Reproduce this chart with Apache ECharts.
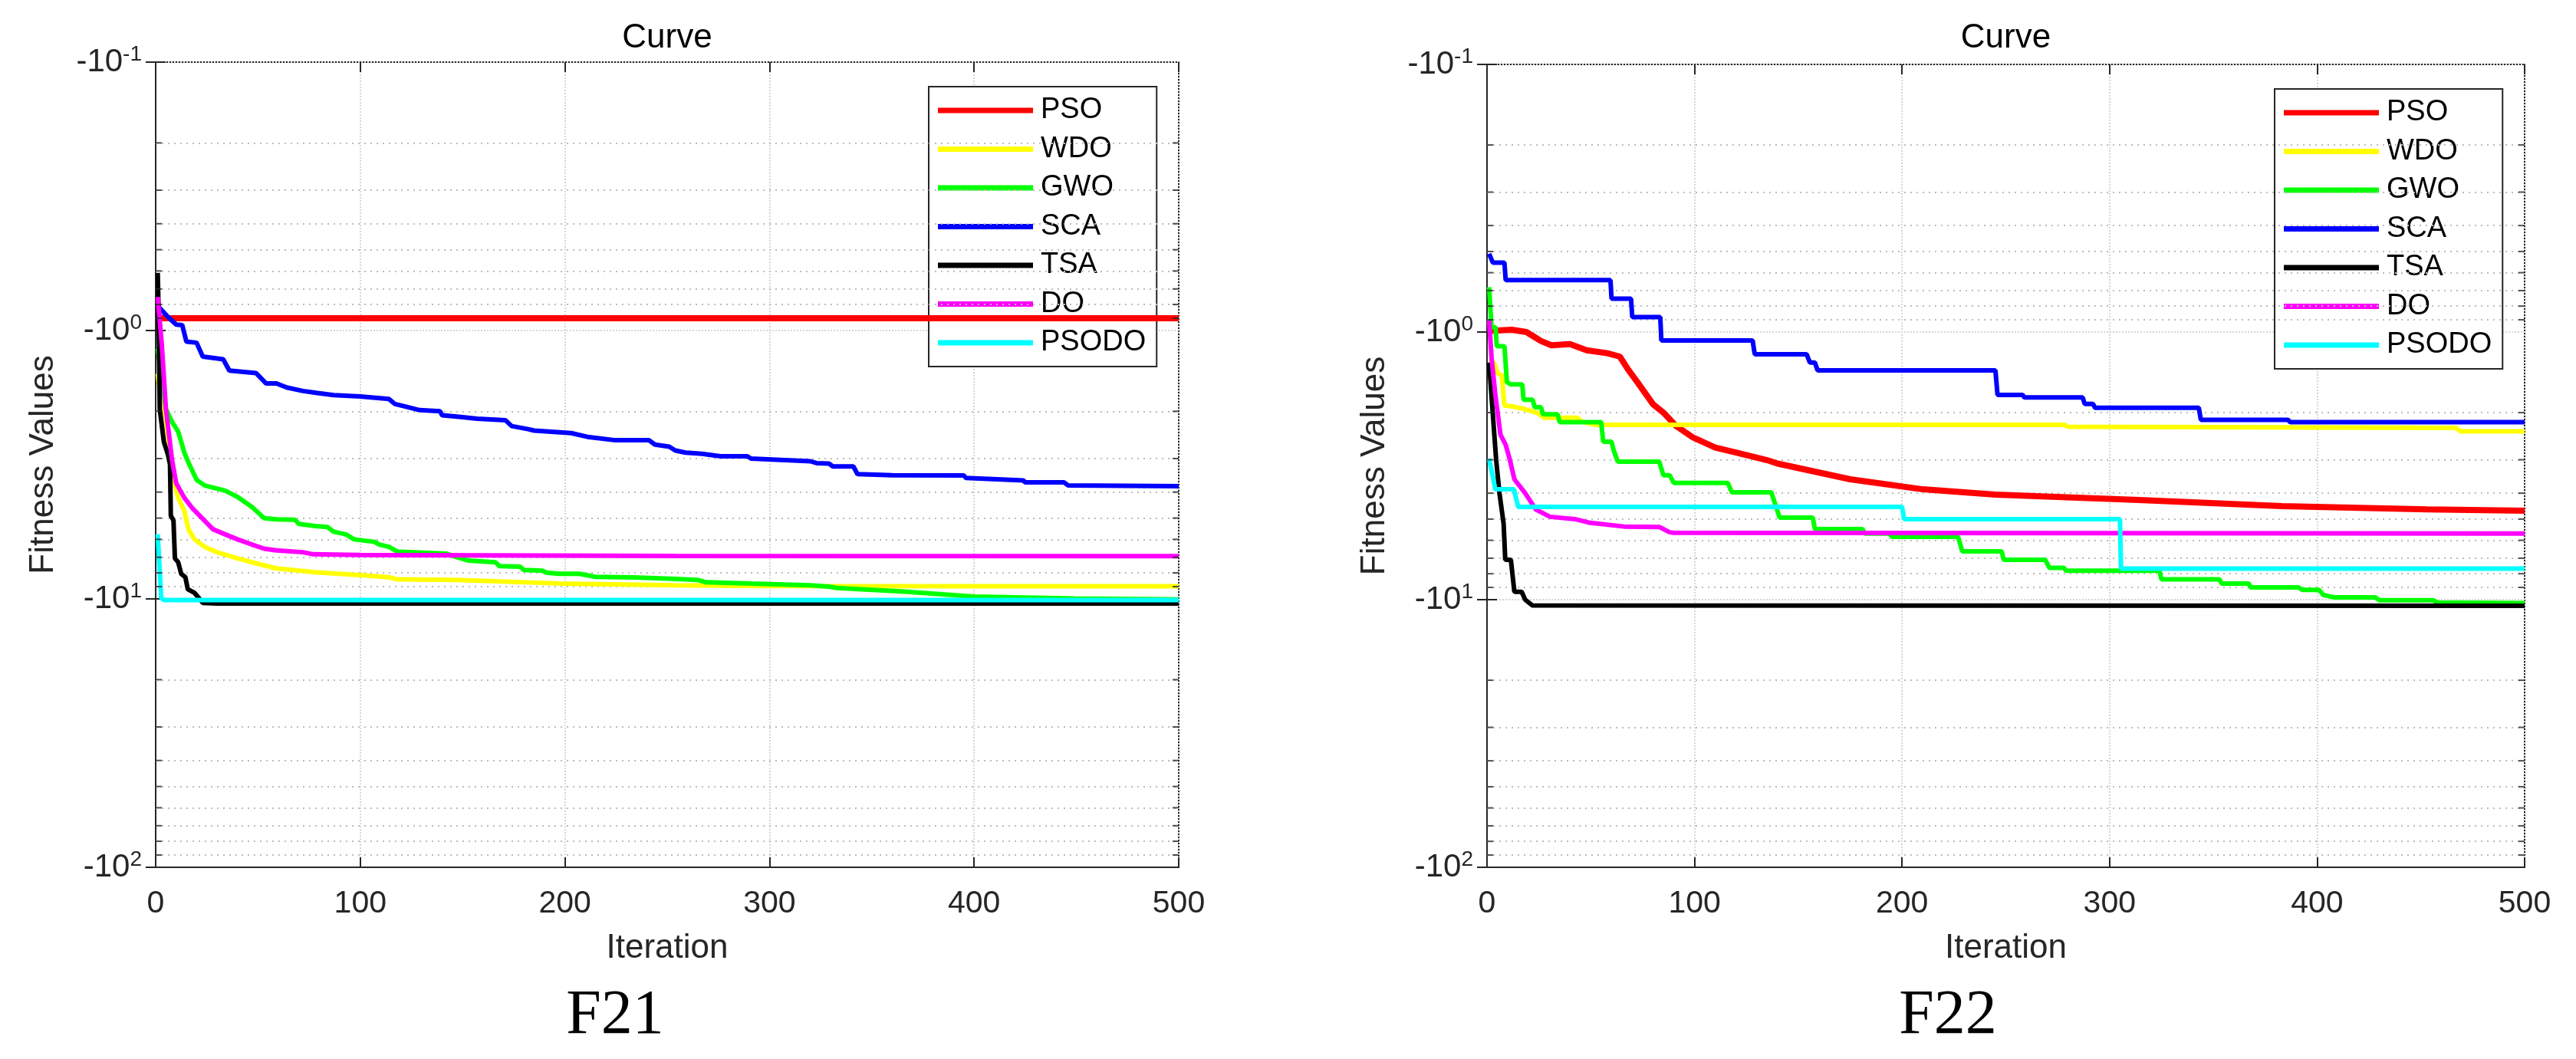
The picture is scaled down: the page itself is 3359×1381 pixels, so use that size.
<!DOCTYPE html>
<html>
<head>
<meta charset="utf-8">
<title>Curve F21 / F22</title>
<script src="https://cdn.jsdelivr.net/npm/echarts@6/dist/echarts.min.js"></script>
<style>
  html, body { margin: 0; padding: 0; background: #fff; }
  #chart { width: 3359px; height: 1381px; }
</style>
</head>
<body>
<div id="chart"></div>
<script>
const SANS = "'Liberation Sans', Arial, sans-serif"
const SERIF = "'Liberation Serif', 'Times New Roman', serif"

const algorithms = ['PSO', 'WDO', 'GWO', 'SCA', 'TSA', 'DO', 'PSODO']
const colors = ['#ff0000', '#ffff00', '#00ff00', '#0000ff', '#000000', '#ff00ff', '#00ffff']
const iterTicks = [0, 100, 200, 300, 400, 500]
const minorTicks = [0.2, 0.3, 0.4, 0.5, 0.6, 0.7, 0.8, 0.9, 2, 3, 4, 5, 6, 7, 8, 9, 20, 30, 40, 50, 60, 70, 80, 90]
const panelNames = ['F21', 'F22']

// F21 curves: [iteration, fitness]
const f21PSO = [[1, -0.88], [3, -0.9], [500, -0.9]]
const f21WDO = [[1, -1.45], [3, -1.96], [5, -2.55], [8, -3.46], [11, -4.2], [14, -4.7], [16, -5.5], [19, -6.0], [24, -6.4], [30, -6.7], [40, -7.06], [50, -7.4], [59, -7.7], [67, -7.8], [78, -7.96], [100, -8.15], [114, -8.3], [118, -8.46], [147, -8.5], [197, -8.76], [254, -8.9], [300, -8.95], [500, -8.97]]
const f21GWO = [[1, -1.17], [3, -1.5], [5, -1.96], [8, -2.19], [11, -2.38], [14, -2.85], [16, -3.1], [20, -3.6], [24, -3.78], [34, -3.95], [40, -4.17], [47, -4.54], [53, -5.0], [59, -5.05], [68, -5.07], [70, -5.26], [78, -5.35], [84, -5.4], [87, -5.62], [93, -5.75], [97, -6.0], [107, -6.13], [109, -6.26], [114, -6.4], [118, -6.66], [142, -6.78], [147, -6.98], [153, -7.2], [166, -7.3], [168, -7.55], [178, -7.58], [180, -7.8], [189, -7.85], [191, -7.98], [197, -8.06], [207, -8.06], [215, -8.28], [234, -8.32], [252, -8.42], [265, -8.5], [269, -8.67], [291, -8.77], [320, -8.9], [329, -9.0], [333, -9.1], [366, -9.4], [400, -9.8], [449, -9.96], [500, -10.05]]
const f21SCA = [[1, -0.8], [2, -0.825], [6, -0.89], [10, -0.95], [13, -0.955], [15, -1.1], [20, -1.11], [23, -1.25], [33, -1.28], [36, -1.41], [49, -1.44], [54, -1.575], [59, -1.575], [64, -1.63], [72, -1.68], [79, -1.71], [87, -1.74], [100, -1.76], [114, -1.8], [117, -1.88], [122, -1.92], [129, -1.98], [139, -2.0], [140, -2.07], [149, -2.1], [157, -2.13], [171, -2.16], [174, -2.27], [182, -2.33], [185, -2.36], [203, -2.41], [211, -2.49], [224, -2.56], [241, -2.56], [244, -2.66], [251, -2.71], [254, -2.8], [259, -2.85], [267, -2.88], [276, -2.94], [289, -2.94], [291, -3.0], [320, -3.07], [323, -3.12], [329, -3.13], [331, -3.21], [341, -3.21], [343, -3.43], [360, -3.46], [395, -3.47], [396, -3.54], [424, -3.62], [425, -3.68], [444, -3.68], [446, -3.78], [500, -3.8]]
const f21TSA = [[1, -0.61], [1.4, -0.82], [2, -1.96], [4, -2.6], [6, -2.9], [7, -3.15], [7.4, -4.9], [8.7, -5.1], [9.4, -7.06], [11, -7.3], [12.5, -8.07], [14.5, -8.3], [15.7, -9.2], [19, -9.5], [21, -9.9], [23, -10.35], [30, -10.4], [500, -10.4]]
const f21DO = [[1, -0.75], [3, -1.13], [5, -1.96], [8, -3.04], [10, -3.7], [14, -4.2], [18, -4.6], [23, -5.03], [28, -5.5], [34, -5.75], [40, -6.0], [47, -6.27], [53, -6.5], [59, -6.6], [72, -6.7], [77, -6.82], [100, -6.86], [254, -6.92], [500, -6.93]]
const f21PSODO = [[1, -5.74], [2.7, -9.9], [4, -10.1], [500, -10.1]]

// F22 curves: [iteration, fitness]
const f22PSO = [[1, -0.99], [12, -0.98], [19, -1.0], [26, -1.08], [31, -1.12], [40, -1.11], [48, -1.17], [58, -1.2], [64, -1.235], [68, -1.38], [73, -1.56], [80, -1.86], [85, -2.0], [91, -2.24], [99, -2.47], [110, -2.7], [120, -2.82], [135, -3.01], [140, -3.1], [175, -3.55], [210, -3.87], [245, -4.05], [314, -4.24], [383, -4.47], [453, -4.6], [500, -4.65]]
const f22WDO = [[1, -1.3], [3.4, -1.3], [5.3, -1.43], [7.1, -1.45], [8.4, -1.88], [12.7, -1.9], [18, -1.94], [24, -2.0], [27.5, -2.09], [43.5, -2.09], [46, -2.17], [52, -2.22], [278, -2.22], [280, -2.26], [467, -2.28], [469, -2.35], [500, -2.35]]
const f22GWO = [[1, -0.68], [2.2, -0.96], [4.1, -0.96], [4.7, -1.13], [8.4, -1.13], [9.6, -1.54], [11.5, -1.57], [17, -1.57], [17.6, -1.79], [22, -1.79], [23, -1.91], [26, -1.91], [27, -2.03], [34, -2.03], [35, -2.17], [55, -2.17], [56, -2.57], [60, -2.57], [61, -2.76], [63, -3.05], [83, -3.05], [85, -3.43], [88, -3.43], [90, -3.66], [116, -3.66], [118, -3.97], [137, -3.97], [141, -4.94], [157, -4.94], [158, -5.45], [181, -5.45], [182, -5.66], [194, -5.66], [195, -5.82], [227, -5.82], [229, -6.6], [248, -6.6], [249, -7.1], [269, -7.1], [271, -7.6], [278, -7.6], [279, -7.8], [324, -7.8], [325, -8.4], [353, -8.4], [354, -8.7], [367, -8.7], [368, -9.0], [391, -9.0], [393, -9.2], [401, -9.2], [403, -9.6], [408, -9.8], [428, -9.8], [430, -10.05], [456, -10.05], [458, -10.25], [500, -10.3]]
const f22SCA = [[1, -0.51], [1.6, -0.51], [2.8, -0.55], [8.4, -0.55], [9, -0.64], [59.5, -0.64], [60, -0.75], [69.4, -0.75], [70, -0.88], [83.5, -0.88], [84, -1.075], [128, -1.075], [129, -1.21], [154, -1.21], [155.6, -1.3], [158, -1.3], [159.3, -1.39], [245, -1.39], [246, -1.717], [258, -1.717], [259, -1.755], [287, -1.755], [288, -1.855], [292, -1.855], [293, -1.92], [343, -1.92], [344, -2.13], [386, -2.13], [387, -2.17], [500, -2.17]]
const f22TSA = [[1, -1.3], [4.4, -3.0], [6, -4.0], [8, -5.2], [8.8, -7.1], [11.5, -7.1], [13.2, -9.35], [16.7, -9.35], [18.4, -10.0], [21.8, -10.5], [500, -10.55]]
const f22DO = [[1, -0.906], [2.2, -1.25], [4.1, -1.74], [6.5, -2.42], [9, -2.64], [11, -3.0], [13.2, -3.55], [18.4, -4.0], [23.5, -4.6], [30.3, -4.9], [42.3, -5.0], [49, -5.15], [66, -5.33], [83, -5.35], [88, -5.6], [90, -5.62], [500, -5.66]]
const f22PSODO = [[1, -2.97], [4, -3.87], [13, -3.87], [15, -4.5], [200, -4.5], [201, -5.0], [305, -5.0], [305.5, -7.65], [500, -7.65]]

const f21 = [f21PSO, f21WDO, f21GWO, f21SCA, f21TSA, f21DO, f21PSODO]
const f22 = [f22PSO, f22WDO, f22GWO, f22SCA, f22TSA, f22DO, f22PSODO]

// plot boxes (pixels)
const grids = [
  { left: 203, top: 81, width: 1334, height: 1050 },
  { left: 1939, top: 84, width: 1353, height: 1047 }
]

const tickStyle = { color: '#262626', width: 2 }
const majorGrid = { color: '#d6d6d6', width: 2, type: [2, 2] }
const minorGrid = { color: '#bcbcbc', width: 2, type: [2, 6] }

function expLabel(v) {
  return '{b|-10}{s|' + Math.round(Math.log10(v)) + '}'
}

function xAxes(g) {
  const common = {
    type: 'value', gridIndex: g, min: 0, max: 500, interval: 100,
    axisTick: { inside: true, length: 13, lineStyle: tickStyle }
  }
  return [
    {
      ...common, position: 'bottom',
      name: 'Iteration', nameLocation: 'middle', nameGap: 84,
      nameTextStyle: { fontSize: 44, color: '#262626', fontFamily: SANS },
      axisLine: { show: true, lineStyle: tickStyle },
      axisLabel: {
        margin: 27, fontSize: 41, color: '#262626', fontFamily: SANS,
        formatter: v => (iterTicks.includes(v) ? String(v) : '')
      },
      splitLine: { show: true, lineStyle: majorGrid }
    },
    {
      ...common, position: 'top',
      axisLine: { show: false }, axisLabel: { show: false }, splitLine: { show: false }
    }
  ]
}

function yAxes(g) {
  const common = {
    type: 'log', logBase: 10, gridIndex: g, min: 0.1, max: 100, inverse: true,
    axisTick: { inside: true, length: 13, lineStyle: tickStyle }
  }
  return [
    {
      ...common, position: 'left',
      name: 'Fitness Values', nameLocation: 'middle', nameGap: 124,
      nameTextStyle: { fontSize: 44, color: '#262626', fontFamily: SANS },
      axisLine: { show: true, lineStyle: tickStyle },
      axisLabel: {
        margin: 18, formatter: expLabel, showMinLabel: true, showMaxLabel: true,
        rich: {
          b: { fontSize: 42, lineHeight: 48, color: '#262626', fontFamily: SANS },
          s: { fontSize: 28, lineHeight: 28, color: '#262626', fontFamily: SANS, verticalAlign: 'top' }
        }
      },
      splitLine: { show: true, lineStyle: majorGrid }
    },
    {
      ...common, position: 'right',
      axisLine: { show: false }, axisLabel: { show: false }, splitLine: { show: false }
    }
  ]
}

function curveSeries(sets, g) {
  return algorithms.map((name, i) => ({
    name,
    type: 'line',
    xAxisIndex: g * 2,
    yAxisIndex: g * 2,
    data: sets[i].map(p => [p[0], -p[1]]),
    symbol: 'none',
    color: colors[i],
    lineStyle: { color: colors[i], width: name === 'PSO' ? 8 : 6 },
    z: 10,
    silent: true,
    animation: false
  }))
}

function minorSeries(g) {
  const base = {
    type: 'scatter', xAxisIndex: g * 2, yAxisIndex: g * 2,
    symbol: 'rect', symbolSize: [8, 2], itemStyle: { color: '#262626' },
    clip: false, silent: true, animation: false, z: 12
  }
  return [
    {
      ...base, name: 'minorL' + g, symbolOffset: [4, 0],
      data: minorTicks.map(v => [0, v]),
      markLine: {
        symbol: ['none', 'none'], silent: true, animation: false,
        label: { show: false }, lineStyle: minorGrid,
        data: minorTicks.map(v => ({ yAxis: v }))
      }
    },
    { ...base, name: 'minorR' + g, symbolOffset: [-4, 0], data: minorTicks.map(v => [500, v]) }
  ]
}

function legendFor(g) {
  const gr = grids[g]
  return {
    orient: 'vertical',
    left: gr.left + gr.width - 33 - 293,
    top: gr.top + 32,
    data: algorithms,
    icon: 'rect',
    itemWidth: 124,
    itemHeight: 7,
    itemGap: 12.5,
    padding: [12, 14, 12, 12],
    borderColor: '#262626',
    borderWidth: 2,
    backgroundColor: '#ffffff',
    selectedMode: false,
    textStyle: { fontSize: 38, lineHeight: 36, color: '#000', fontFamily: SANS, padding: [0, 0, 0, 5] }
  }
}

function textAt(x, y, text, size, family) {
  return {
    type: 'text', x, y, silent: true,
    style: {
      text, fontSize: size, fontFamily: family, fill: '#000',
      align: 'center', verticalAlign: 'middle',
      textAlign: 'center', textVerticalAlign: 'middle'
    }
  }
}

const chart = echarts.init(document.getElementById('chart'), null, { width: 3359, height: 1381 })

chart.setOption({
  backgroundColor: '#ffffff',
  animation: false,
  grid: grids.map(gr => ({ ...gr, show: true, borderColor: '#262626', borderWidth: 2, backgroundColor: '#ffffff' })),
  xAxis: [...xAxes(0), ...xAxes(1)],
  yAxis: [...yAxes(0), ...yAxes(1)],
  legend: [legendFor(0), legendFor(1)],
  series: [
    ...minorSeries(0), ...minorSeries(1),
    ...curveSeries(f21, 0), ...curveSeries(f22, 1)
  ],
  graphic: [
    textAt(grids[0].left + grids[0].width / 2, 50, 'Curve', 44, SANS),
    textAt(grids[1].left + grids[1].width / 2, 50, 'Curve', 44, SANS),
    textAt(802, 1325, panelNames[0], 82, SERIF),
    textAt(2540, 1325, panelNames[1], 82, SERIF)
  ]
})
</script>
</body>
</html>
